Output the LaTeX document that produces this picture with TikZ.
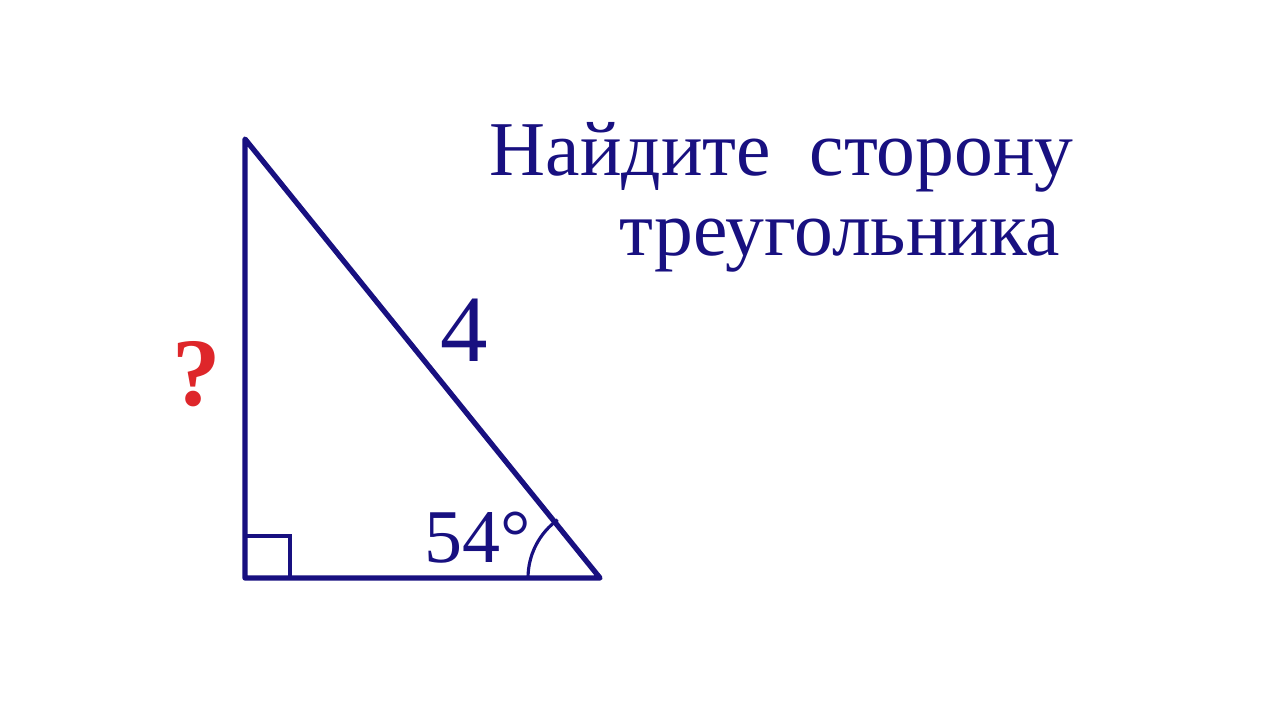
\documentclass[tikz,border=0pt]{standalone}
\usepackage{fontspec}
\setmainfont{Liberation Serif}
\definecolor{navy}{RGB}{24,16,128}
\definecolor{qred}{RGB}{222,38,42}
\begin{document}
\begin{tikzpicture}[x=0.01cm,y=-0.01cm,
  side/.style={draw=navy,line width=1.5pt,line join=round,line cap=round},
  thin/.style={draw=navy,line width=0.9pt},
  lbl/.style={text=navy,inner sep=0pt,anchor=base west}]
\useasboundingbox[fill=white] (0,0) rectangle (1274,721);
\coordinate (A) at (245,139);
\coordinate (C) at (245,578);
\coordinate (B) at (600,578);
\draw[side] (A) -- (C) -- (B) -- cycle;
\draw[thin] (245,536) -- (290,536) -- (290,578);
\draw[thin] (528,578) arc[start angle=180,end angle=234,radius=72];
\node[lbl,font=\fontsize{21.6}{26}\selectfont] (ang) at (424,562) {54°};
\node[lbl,font=\fontsize{27}{32}\selectfont] (hyp) at (440,361) {4};
\node[lbl,text=qred,font=\bfseries\fontsize{27.5}{32}\selectfont] (q) at (172,405) {?};
\node[lbl,font=\fontsize{22.05}{26}\selectfont] (t1) at (489,175) {Найдите\ \ сторону};
\node[lbl,font=\fontsize{22.05}{26}\selectfont] (t2) at (619,255) {треугольника};
\end{tikzpicture}
\end{document}
